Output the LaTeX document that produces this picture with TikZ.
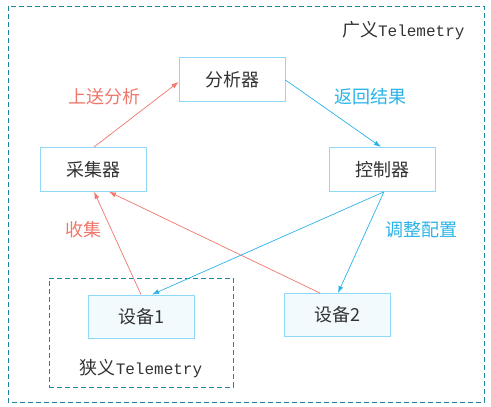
\documentclass[tikz,border=0pt]{standalone}
\usepackage{fontspec}
\setmainfont{Noto Sans CJK SC}
\newfontfamily\monofont{Liberation Mono}
\usepackage{tikz}
\usetikzlibrary{arrows.meta, positioning}
\definecolor{edgered}{HTML}{F0776B}
\definecolor{edgeblue}{HTML}{29B3E8}
\definecolor{boxline}{HTML}{8FD9F6}
\definecolor{boxfill}{HTML}{F2FAFE}
\definecolor{frameline}{HTML}{1F86A6}
\definecolor{inktext}{HTML}{333333}
\tikzset{%
	unit/.style={draw=boxline, line width=0.9pt, rectangle, minimum width=106pt, minimum height=44pt,%
		inner sep=0pt, font=\fontsize{18}{20}\selectfont, text=inktext, fill=white},
	device/.style={unit, fill=boxfill},
	region/.style={draw=frameline, line width=0.9pt, dash pattern=on 5pt off 3pt},
	upflow/.style={-{Latex[length=7pt,width=5pt]}, draw=edgered, line width=0.7pt},
	downflow/.style={-{Latex[length=7pt,width=5pt]}, draw=edgeblue, line width=0.7pt},
	redlabel/.style={text=edgered, font=\fontsize{18}{20}\selectfont},
	bluelabel/.style={text=edgeblue, font=\fontsize{18}{20}\selectfont},
	scopelabel/.style={font=\fontsize{18}{20}\selectfont, text=inktext}
}
\begin{document}
\begin{tikzpicture}[x=1pt, y=-1pt]
	\useasboundingbox (0,0) rectangle (491,407);
	\draw[region] (8,6) rectangle (484,402);
	\node[anchor=east, scopelabel] (wide) at (468,31) {广义{\monofont\fontsize{16}{20}\selectfont Telemetry}};

	\node[unit] (fx) at (232,79.5) {分析器};
	\node[unit, below left=45pt and 32pt of fx] (cj) {采集器};
	\node[unit, below right=45pt and 44pt of fx] (kz) {控制器};
	\node[device, minimum height=43pt] (sb1) at (141,316.5) {设备1};
	\node[device, minimum height=43pt] (sb2) at (337,315) {设备2};
	\node[region, rectangle, minimum width=184pt, minimum height=109pt] (narrow) at (141,332.5) {};
	\node[scopelabel, above=6pt of narrow.south] (narrowtext) {狭义{\monofont\fontsize{16}{20}\selectfont Telemetry}};

	\node[redlabel] (up) at (104,97) {上送分析};
	\node[bluelabel] (back) at (370,97) {返回结果};
	\node[redlabel] (collect) at (83,230) {收集};
	\node[bluelabel] (adjust) at (421,230) {调整配置};

	\draw[upflow] ([xshift=1pt]cj.north) to ([yshift=-2.5pt]fx.west);
	\draw[downflow] ([yshift=-0.5pt]fx.east) to ([xshift=-2pt]kz.north);
	\draw[upflow] (sb1.north) to ([xshift=1pt]cj.south);
	\draw[upflow] ([xshift=-17pt]sb2.north) to ([xshift=16pt]cj.south);
	\draw[downflow] ([xshift=1pt]kz.south) to ([xshift=11pt]sb1.north);
	\draw[downflow] ([xshift=1pt]kz.south) to ([xshift=1pt]sb2.north);
\end{tikzpicture}
\end{document}
